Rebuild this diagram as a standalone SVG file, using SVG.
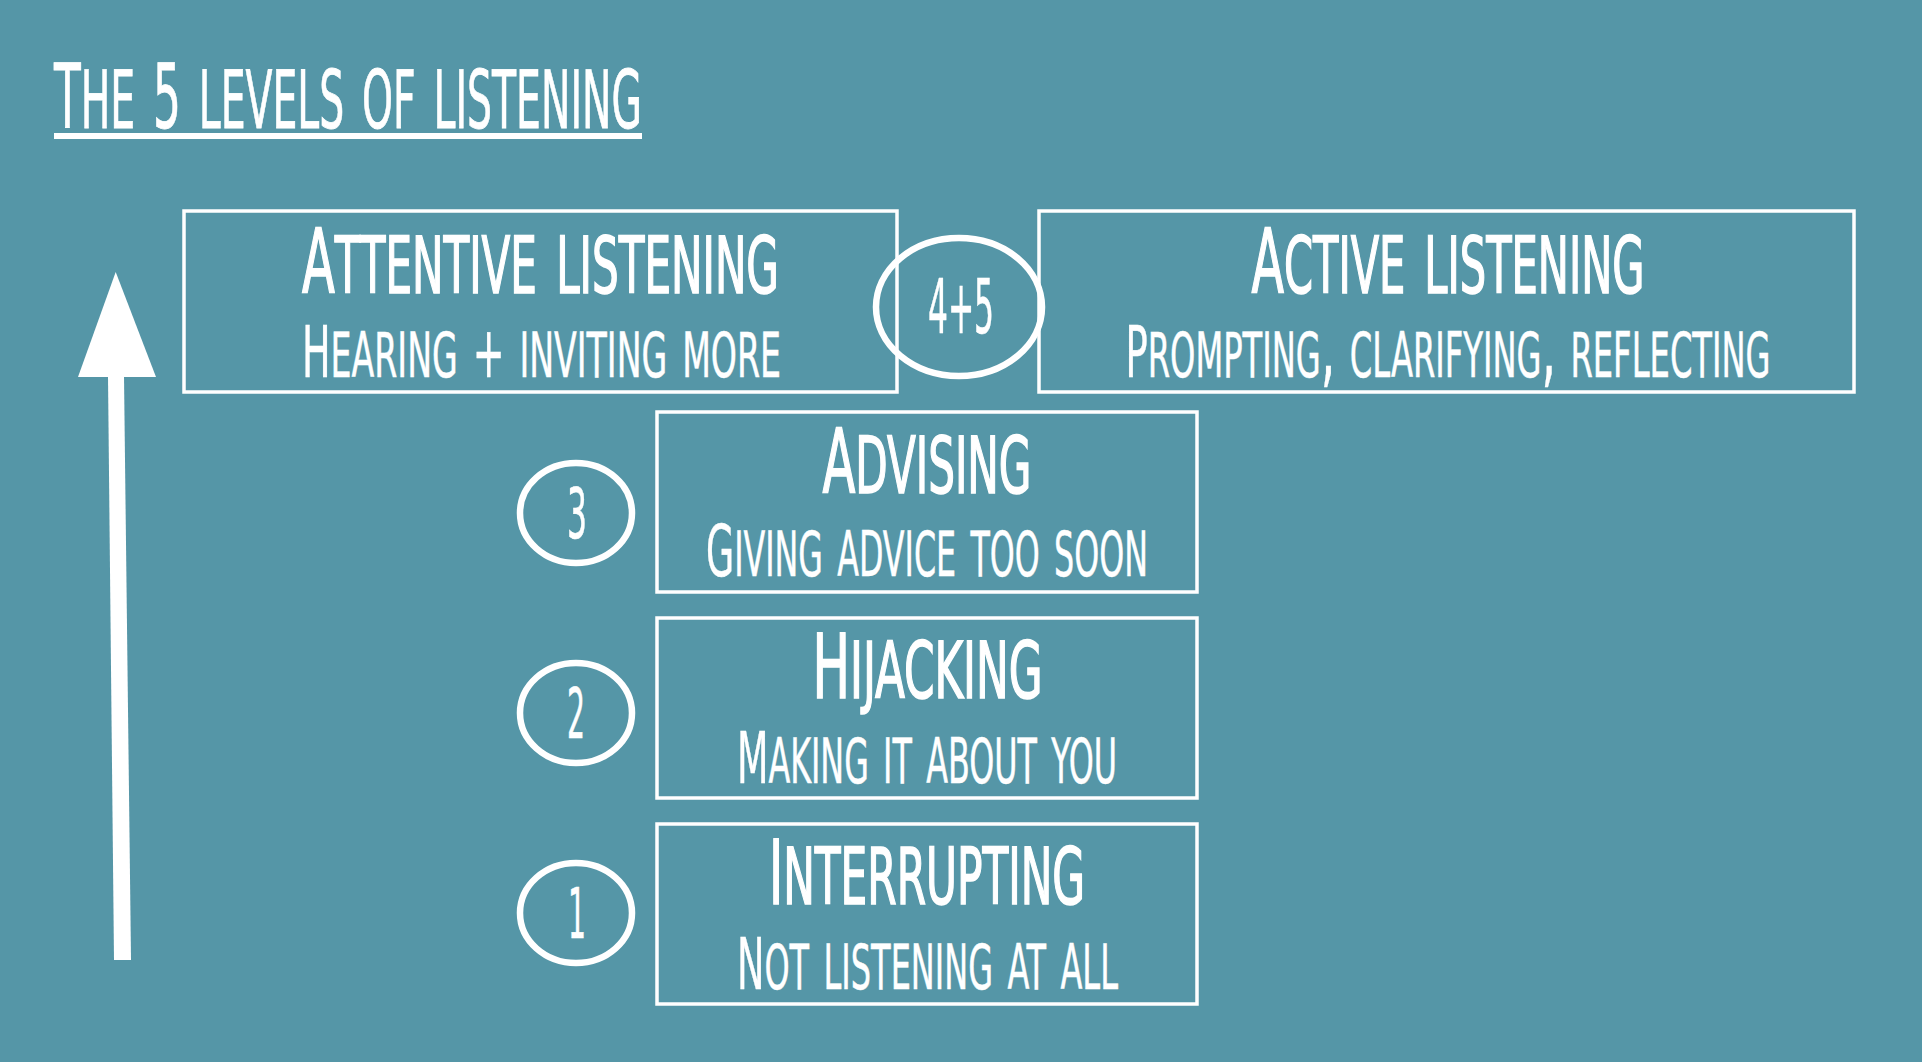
<svg xmlns="http://www.w3.org/2000/svg" width="1922" height="1062" viewBox="0 0 1922 1062">
<style>
  .bg { fill: #5596a7; }
  .box { fill: none; stroke: #ffffff; stroke-width: 3.5; }
  .ring { fill: none; stroke: #ffffff; stroke-width: 6.5; }
  text { fill: #ffffff; font-family: "DejaVu Sans Condensed", "DejaVu Sans", sans-serif; font-stretch: condensed; font-variant: small-caps; }
  .title { font-size: 114px; stroke: #ffffff; stroke-width: 0.8; }
  .head { font-size: 112px; stroke: #ffffff; stroke-width: 1.6; }
  .sub { font-size: 88px; stroke: #ffffff; stroke-width: 0.5; }
  .capT { font-size: 89px; }
  .capH { font-size: 89px; }
  .capS { font-size: 71px; }
  .num { font-size: 70px; font-variant: normal; stroke: #ffffff; stroke-width: 0.6; }
</style>
<rect class="bg" x="0" y="0" width="1922" height="1062"/>

<g id="title">
  <text x="54" y="128" textLength="588" lengthAdjust="spacingAndGlyphs" class="title"><tspan class="capT">T</tspan>he <tspan class="capT">5</tspan> levels of listening</text>
  <rect x="54" y="133" width="588" height="6" fill="#ffffff"/>
</g>

<g id="connectors">
  <polygon points="115.7,272 156,377 78,377" fill="#ffffff"/>
  <polygon points="108,376 124,376 131,960 114,960" fill="#ffffff"/>
</g>

<g id="node-attentive">
  <rect class="box" x="184" y="211" width="713" height="181"/>
  <text x="540.5" y="293" text-anchor="middle" textLength="477" lengthAdjust="spacingAndGlyphs" class="head"><tspan class="capH">A</tspan>ttentive listening</text>
  <text x="541.5" y="377" text-anchor="middle" textLength="479" lengthAdjust="spacingAndGlyphs" class="sub"><tspan class="capS">H</tspan>earing <tspan class="capS">+</tspan> inviting more</text>
</g>

<g id="node-45">
  <ellipse class="ring" cx="959" cy="307" rx="83" ry="69"/>
  <text x="961" y="333" text-anchor="middle" textLength="66" lengthAdjust="spacingAndGlyphs" class="num" style="font-size:75px">4+5</text>
</g>

<g id="node-active">
  <rect class="box" x="1039" y="211" width="815" height="181"/>
  <text x="1448" y="293" text-anchor="middle" textLength="393" lengthAdjust="spacingAndGlyphs" class="head"><tspan class="capH">A</tspan>ctive listening</text>
  <text x="1448" y="377" text-anchor="middle" textLength="645" lengthAdjust="spacingAndGlyphs" class="sub"><tspan class="capS">P</tspan>rompting, clarifying, reflecting</text>
</g>

<g id="node-3">
  <ellipse class="ring" cx="576" cy="513" rx="56" ry="50"/>
  <text x="577" y="538" text-anchor="middle" textLength="20" lengthAdjust="spacingAndGlyphs" class="num">3</text>
</g>

<g id="node-advising">
  <rect class="box" x="657" y="412" width="540" height="180"/>
  <text x="927" y="493" text-anchor="middle" textLength="209" lengthAdjust="spacingAndGlyphs" class="head"><tspan class="capH">A</tspan>dvising</text>
  <text x="927" y="576" text-anchor="middle" textLength="442" lengthAdjust="spacingAndGlyphs" class="sub"><tspan class="capS">G</tspan>iving advice too soon</text>
</g>

<g id="node-2">
  <ellipse class="ring" cx="576" cy="713" rx="56" ry="50"/>
  <text x="576" y="738" text-anchor="middle" textLength="18" lengthAdjust="spacingAndGlyphs" class="num">2</text>
</g>

<g id="node-hijacking">
  <rect class="box" x="657" y="618" width="540" height="180"/>
  <text x="927.5" y="698" text-anchor="middle" textLength="230" lengthAdjust="spacingAndGlyphs" class="head"><tspan class="capH">H</tspan>ijacking</text>
  <text x="927" y="783" text-anchor="middle" textLength="380" lengthAdjust="spacingAndGlyphs" class="sub"><tspan class="capS">M</tspan>aking it about you</text>
</g>

<g id="node-1">
  <ellipse class="ring" cx="576" cy="913" rx="56" ry="50"/>
  <text x="577" y="938" text-anchor="middle" textLength="18" lengthAdjust="spacingAndGlyphs" class="num">1</text>
</g>

<g id="node-interrupting">
  <rect class="box" x="657" y="824" width="540" height="180"/>
  <text x="927" y="904" text-anchor="middle" textLength="316" lengthAdjust="spacingAndGlyphs" class="head"><tspan class="capH">I</tspan>nterrupting</text>
  <text x="927.5" y="989" text-anchor="middle" textLength="381" lengthAdjust="spacingAndGlyphs" class="sub"><tspan class="capS">N</tspan>ot listening at all</text>
</g>
</svg>
